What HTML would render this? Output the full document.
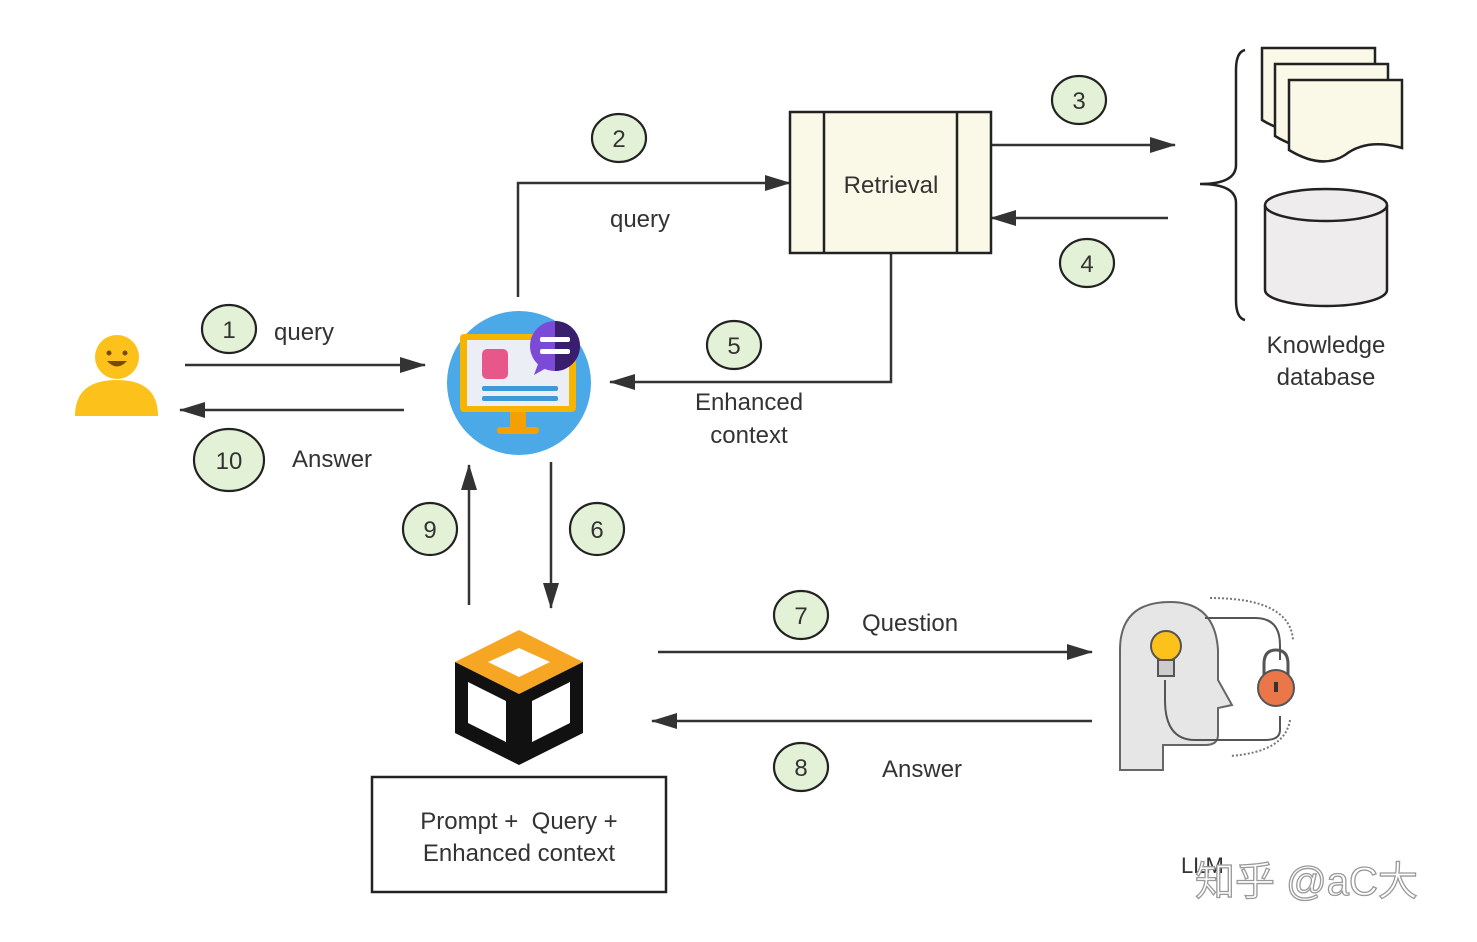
<!DOCTYPE html>
<html><head><meta charset="utf-8"><style>
html,body{margin:0;padding:0;background:#fff;}
svg{display:block;}
text{font-family:"Liberation Sans","Noto Sans CJK SC",sans-serif;fill:#333;}
</style></head><body>
<svg width="1477" height="942" viewBox="0 0 1477 942" xmlns="http://www.w3.org/2000/svg">
<defs>
<marker id="a" viewBox="0 0 26 16" refX="25" refY="8" markerWidth="26" markerHeight="16" markerUnits="userSpaceOnUse" orient="auto">
<path d="M0,0 L26,8 L0,16 z" fill="#333"/></marker>
</defs>
<g stroke="#333" stroke-width="2.5" fill="none">
<path d="M518,297 V183 H790" marker-end="url(#a)"/>
<path d="M991,145 H1175" marker-end="url(#a)"/>
<path d="M1168,218 H991" marker-end="url(#a)"/>
<path d="M891,253 V382 H610" marker-end="url(#a)"/>
<path d="M185,365 H425" marker-end="url(#a)"/>
<path d="M404,410 H180" marker-end="url(#a)"/>
<path d="M469,605 V465" marker-end="url(#a)"/>
<path d="M551,462 V608" marker-end="url(#a)"/>
<path d="M658,652 H1092" marker-end="url(#a)"/>
<path d="M1092,721 H652" marker-end="url(#a)"/>
</g>
<rect x="790" y="112" width="201" height="141" fill="#faf8e6" stroke="#222" stroke-width="2.5"/>
<line x1="824" y1="112" x2="824" y2="253" stroke="#222" stroke-width="2.5"/>
<line x1="957" y1="112" x2="957" y2="253" stroke="#222" stroke-width="2.5"/>
<text x="891" y="193" font-size="24" text-anchor="middle">Retrieval</text>
<g stroke="#222" stroke-width="2.5" fill="#faf8e6">
<path d="M1262,48 H1375 V118 Q1340,108 1318,125 Q1295,140 1262,120 Z"/>
<path d="M1275,64 H1388 V134 Q1353,124 1331,141 Q1308,156 1275,136 Z"/>
<path d="M1289,80 H1402 V148 Q1367,138 1345,155 Q1322,170 1289,150 Z"/>
</g>
<path d="M1265,205 V290 A61,16 0 0 0 1387,290 V205" fill="#eeecec" stroke="#222" stroke-width="2.5"/>
<ellipse cx="1326" cy="205" rx="61" ry="16" fill="#eeecec" stroke="#222" stroke-width="2.5"/>
<path d="M1245,50 Q1236,52 1236,70 V165 Q1236,184 1200,184 Q1236,184 1236,203 V300 Q1236,318 1245,320" fill="none" stroke="#222" stroke-width="2.5"/>
<text x="1326" y="353" font-size="24" text-anchor="middle">Knowledge</text>
<text x="1326" y="385" font-size="24" text-anchor="middle">database</text>
<circle cx="117" cy="357" r="22" fill="#fcc21b"/>
<path d="M75,416 Q75,380 117,380 Q158,380 158,416 Z" fill="#fcc21b"/>
<circle cx="109" cy="353" r="2.5" fill="#7a4a00"/><circle cx="125" cy="353" r="2.5" fill="#7a4a00"/>
<path d="M107,361 Q117,372 127,361 Z" fill="#7a4a00"/>
<circle cx="519" cy="383" r="72" fill="#4aa9e6"/>
<rect x="460" y="334" width="116" height="78" rx="4" fill="#f4b400"/>
<rect x="467" y="340" width="102" height="66" fill="#eceef5"/>
<rect x="510" y="412" width="16" height="16" fill="#f4a000"/>
<rect x="497" y="427" width="42" height="7" rx="3" fill="#f4a000"/>
<rect x="482" y="349" width="26" height="30" rx="5" fill="#e8578a"/>
<rect x="482" y="386" width="76" height="5" rx="2" fill="#3c9ad8"/>
<rect x="482" y="396" width="76" height="5" rx="2" fill="#3c9ad8"/>
<circle cx="555" cy="346" r="25" fill="#7b4ad6"/>
<path d="M555,321 A25,25 0 0 1 555,371 Z" fill="#3a1e6e"/>
<path d="M538,364 L534,375 L548,367 Z" fill="#7b4ad6"/>
<rect x="540" y="337" width="30" height="5" rx="2" fill="#fff"/>
<rect x="540" y="349" width="30" height="5" rx="2" fill="#fff"/>
<polygon points="519,630 583,662 519,694 455,662" fill="#f6a623"/>
<polygon points="519,648 550,662 519,677 488,662" fill="#fff"/>
<polygon points="455,662 519,694 519,765 455,733" fill="#111"/>
<polygon points="519,694 583,662 583,733 519,765" fill="#111"/>
<polygon points="468,682 506,701 506,742 468,723" fill="#fff"/>
<polygon points="532,701 570,682 570,723 532,742" fill="#fff"/>
<rect x="372" y="777" width="294" height="115" fill="#fff" stroke="#222" stroke-width="2.5"/>
<text x="519" y="829" font-size="24" text-anchor="middle" xml:space="preserve">Prompt +  Query +</text>
<text x="519" y="861" font-size="24" text-anchor="middle">Enhanced context</text>
<path d="M1120,770 V650 Q1120,602 1170,602 Q1215,602 1218,650 V680 L1232,705 L1218,708 V735 Q1218,745 1205,745 H1163 V770 Z" fill="#e6e6e6" stroke="#666" stroke-width="2"/>
<path d="M1205,618 H1255 Q1280,618 1280,645 V660 M1280,716 V730 Q1280,740 1265,740 H1195 Q1165,740 1165,700 V680" fill="none" stroke="#555" stroke-width="2"/>
<path d="M1210,598 Q1290,598 1293,640 M1290,720 Q1285,752 1230,756" fill="none" stroke="#777" stroke-width="2" stroke-dasharray="2 2"/>
<circle cx="1166" cy="646" r="15" fill="#fcc21b" stroke="#555" stroke-width="2"/>
<rect x="1158" y="660" width="16" height="16" fill="#ccc" stroke="#555" stroke-width="2"/>
<path d="M1264,676 V664 Q1264,650 1276,650 Q1288,650 1288,664 V676" fill="none" stroke="#555" stroke-width="3"/>
<circle cx="1276" cy="688" r="18" fill="#e9774a" stroke="#555" stroke-width="2"/>
<rect x="1274" y="682" width="4" height="10" fill="#333"/>
<text x="1181" y="873" font-size="22" fill="#222">LLM</text>
<text x="1195" y="895" font-size="40" style="fill:#fff;stroke:#999;stroke-width:1.3">知乎 @aC大</text>
<g font-size="24">
<text x="640" y="227" text-anchor="middle">query</text>
<text x="274" y="340">query</text>
<text x="292" y="467">Answer</text>
<text x="749" y="410" text-anchor="middle">Enhanced</text>
<text x="749" y="443" text-anchor="middle">context</text>
<text x="862" y="631">Question</text>
<text x="882" y="777">Answer</text>
</g>
<g fill="#e3f2d6" stroke="#222" stroke-width="2.2">
<ellipse cx="229" cy="329" rx="27" ry="24"/>
<ellipse cx="619" cy="138" rx="27" ry="24"/>
<ellipse cx="1079" cy="100" rx="27" ry="24"/>
<ellipse cx="1087" cy="263" rx="27" ry="24"/>
<ellipse cx="734" cy="345" rx="27" ry="24"/>
<ellipse cx="229" cy="460" rx="35" ry="31"/>
<ellipse cx="430" cy="529" rx="27" ry="26"/>
<ellipse cx="597" cy="529" rx="27" ry="26"/>
<ellipse cx="801" cy="615" rx="27" ry="24"/>
<ellipse cx="801" cy="767" rx="27" ry="24"/>
</g>
<g font-size="24" text-anchor="middle">
<text x="229" y="338">1</text>
<text x="619" y="147">2</text>
<text x="1079" y="109">3</text>
<text x="1087" y="272">4</text>
<text x="734" y="354">5</text>
<text x="229" y="469">10</text>
<text x="430" y="538">9</text>
<text x="597" y="538">6</text>
<text x="801" y="624">7</text>
<text x="801" y="776">8</text>
</g>
</svg>
</body></html>
